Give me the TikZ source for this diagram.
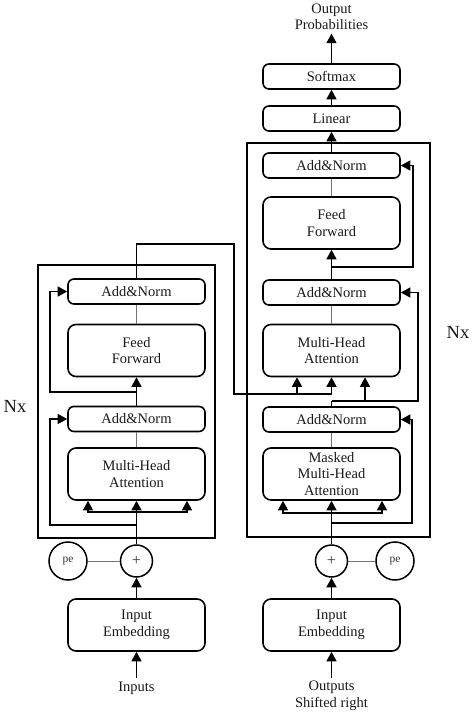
\documentclass[tikz,border=0pt]{standalone}
\usepackage{fontspec}
\setmainfont{Liberation Serif}
\usetikzlibrary{arrows.meta}
\begin{document}
\begin{tikzpicture}[x=1pt,y=-1pt,
 blk/.style={draw=black,line width=1.6pt,rounded corners=6pt,minimum width=137pt,inner sep=0pt,align=center,font=\fontsize{14.5}{16.5}\selectfont,text=black!90},
 sm/.style={blk,minimum height=25pt},
 bg/.style={blk,minimum height=52pt,rounded corners=8pt},
 frame/.style={draw=black,line width=1.5pt,inner sep=0pt},
 arr/.style={line width=1.3pt,-{Triangle[width=10pt,length=9.5pt]}},
 ln/.style={line width=1.3pt},
 thinln/.style={draw=black!55,line width=0.9pt},
 circ/.style={circle,draw=black,line width=1.5pt,inner sep=0pt,text=black!80},
 lbl/.style={align=center,font=\fontsize{14.5}{16.5}\selectfont,text=black!90}
]
\useasboundingbox (0,0) rectangle (474,718);

% frames
\node[frame,minimum width=177pt,minimum height=273pt] (eBox) at (126.5,401.5) {};
\node[frame,minimum width=183pt,minimum height=394pt] (dBox) at (338.5,340) {};

% encoder
\node[sm] (eAN2) at (136.5,291.5) {Add\&Norm};
\node[bg] (eFF) at (136.5,350.5) {Feed\\Forward};
\node[sm] (eAN1) at (136.5,419) {Add\&Norm};
\node[bg] (eMHA) at (136.5,474) {Multi-Head\\Attention};
\node[circ,minimum size=32pt,font=\fontsize{16}{16}\selectfont] (ePlus) at (136.5,561) {+};
\node[circ,minimum size=38pt,font=\fontsize{11.5}{12}\selectfont] (ePE) at (68,561) {pe};
\node[bg] (eEmb) at (136.5,625) {Input\\Embedding};
\node[lbl] (eIn) at (136.5,688) {Inputs};

% decoder
\node[sm] (dSoft) at (331.5,76.5) {Softmax};
\node[sm] (dLin) at (331.5,118.5) {Linear};
\node[sm] (dAN3) at (331.5,165.5) {Add\&Norm};
\node[bg] (dFF) at (331.5,223) {Feed\\Forward};
\node[sm] (dAN2) at (331.5,292.5) {Add\&Norm};
\node[bg] (dMHA) at (331.5,350.5) {Multi-Head\\Attention};
\node[sm] (dAN1) at (331.5,419.5) {Add\&Norm};
\node[bg] (dMM) at (331.5,474) {Masked\\Multi-Head\\Attention};
\node[circ,minimum size=32pt,font=\fontsize{16}{16}\selectfont] (dPlus) at (331.5,561) {+};
\node[circ,minimum size=38pt,font=\fontsize{11.5}{12}\selectfont] (dPE) at (395,561) {pe};
\node[bg] (dEmb) at (331.5,625) {Input\\Embedding};
\node[lbl] (dOut) at (331.5,696) {Outputs\\Shifted right};
\node[lbl] (prob) at (331.5,17) {Output\\Probabilities};

\node[font=\fontsize{18.5}{20}\selectfont,text=black!90] (nxL) at (15,406) {Nx};
\node[font=\fontsize{18.5}{20}\selectfont,text=black!90] (nxR) at (458,332) {Nx};

% encoder connectors
\draw[arr] (eIn.north) -- (eEmb.south);
\draw[arr] (eEmb.north) -- (ePlus.south);
\draw[thinln] (ePE) -- (ePlus);
\draw[arr] (ePlus.north) -- (eMHA.south);
\coordinate (eJ) at (136.5,512);
\draw[arr] (eJ) -| ([xshift=-48.5pt]eMHA.south);
\draw[arr] (eJ) -| ([xshift=50.5pt]eMHA.south);
\coordinate (eR1) at (136.5,525);
\draw[arr] (eR1) -- (50,525) |- (eAN1.west);
\draw[thinln] (eMHA.north) -- (eAN1.south);
\draw[arr] (eAN1.north) -- (eFF.south);
\coordinate (eR2) at (136.5,392);
\draw[arr] (eR2) -- (50,392) |- (eAN2.west);
\draw[thinln] (eFF.north) -- (eAN2.south);
\coordinate (encOut) at (331.5,394);
\draw[ln] (eAN2.north) |- (234,244) |- (encOut);
\coordinate (kIn) at (297,394);
\draw[arr] (kIn) -- (kIn |- dMHA.south);
\draw[arr] (encOut) -- (dMHA.south);

% decoder connectors
\draw[arr] (dOut.north) -- (dEmb.south);
\draw[arr] (dEmb.north) -- (dPlus.south);
\draw[thinln] (dPlus) -- (dPE);
\draw[arr] (dPlus.north) -- (dMM.south);
\coordinate (dJ) at (331.5,513);
\draw[arr] (dJ) -| ([xshift=-48.5pt]dMM.south);
\draw[arr] (dJ) -| ([xshift=50.5pt]dMM.south);
\coordinate (dR1) at (331.5,523);
\draw[arr] (dR1) -- (412,523) |- (dAN1.east);
\draw[thinln] (dMM.north) -- (dAN1.south);
\coordinate (dQ) at (331.5,401);
\draw[ln] (dAN1.north) -- (dQ);
\draw[arr] (dQ) -- (418,401) |- (dAN2.east);
\coordinate (qIn) at (365,401);
\draw[arr] (qIn) -- (qIn |- dMHA.south);
\draw[thinln] (dMHA.north) -- (dAN2.south);
\draw[arr] (dAN2.north) -- (dFF.south);
\coordinate (dR3) at (331.5,267);
\draw[arr] (dR3) -- (413,267) |- (dAN3.east);
\draw[thinln] (dFF.north) -- (dAN3.south);
\draw[arr] (dAN3.north) -- (dLin.south);
\draw[arr] (dLin.north) -- (dSoft.south);
\draw[arr] (dSoft.north) -- (prob.south);
\end{tikzpicture}
\end{document}
